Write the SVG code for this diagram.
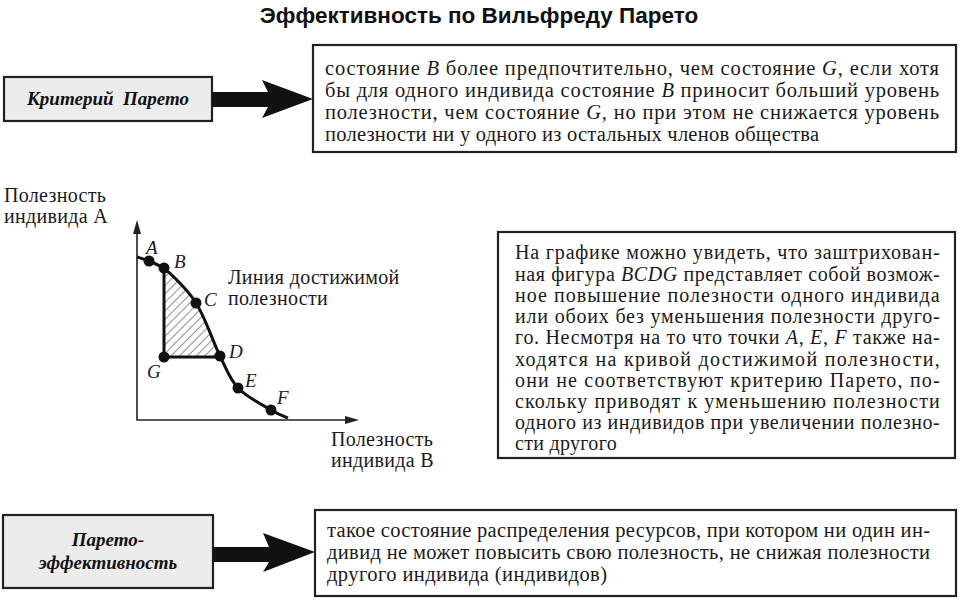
<svg xmlns="http://www.w3.org/2000/svg" width="960" height="600" viewBox="0 0 960 600">
<defs>
<style>
.title{font-family:"Liberation Sans",Arial,sans-serif;font-weight:bold;font-size:22.5px;fill:#111}
.lbl{font-family:"Liberation Serif","Times New Roman",serif;font-style:italic;font-weight:bold;font-size:19px;fill:#111}
.txt{font-family:"Liberation Serif","Times New Roman",serif;font-size:20.5px;fill:#1a1a1a}
.txt3{font-family:"Liberation Serif","Times New Roman",serif;font-size:20px;letter-spacing:0.3px;fill:#1a1a1a}
.ax{font-family:"Liberation Serif","Times New Roman",serif;font-size:20px;letter-spacing:0.3px;fill:#1a1a1a}
.pt{font-family:"Liberation Serif","Times New Roman",serif;font-style:italic;font-size:19px;fill:#1a1a1a}
.i{font-style:italic}
.gbox{fill:#ececec;stroke:#222;stroke-width:2.2}
.wbox{fill:#fff;stroke:#222;stroke-width:2.2}
.fat{fill:#111}
.axis{stroke:#222;stroke-width:1.6;fill:none}
.thick{stroke:#111;stroke-width:3;fill:none}
.dot{fill:#111}
</style>
<pattern id="hatch" width="6" height="6" patternUnits="userSpaceOnUse" patternTransform="rotate(45)">
<line x1="0" y1="0" x2="0" y2="6" stroke="#222" stroke-width="1"/>
</pattern>
</defs>
<rect width="960" height="600" fill="#fff"/>
<text class="title" x="479" y="23" text-anchor="middle">Эффективность по Вильфреду Парето</text>

<g id="criterion">
<rect class="gbox" x="4" y="77" width="208" height="44"/>
<text class="lbl" x="108" y="105" text-anchor="middle" xml:space="preserve">Критерий  Парето</text>
</g>

<g id="criterion-def">
<rect class="wbox" x="313" y="45" width="643" height="107"/>
<text class="txt" x="325" y="75" textLength="614" lengthAdjust="spacing">состояние <tspan class="i">B</tspan> более предпочтительно, чем состояние <tspan class="i">G</tspan>, если хотя</text>
<text class="txt" x="325" y="97" textLength="614" lengthAdjust="spacing">бы для одного индивида состояние <tspan class="i">B</tspan> приносит больший уровень</text>
<text class="txt" x="325" y="119" textLength="614" lengthAdjust="spacing">полезности, чем состояние <tspan class="i">G</tspan>, но при этом не снижается уровень</text>
<text class="txt" x="325" y="141" textLength="494" lengthAdjust="spacing">полезности ни у одного из остальных членов общества</text>
</g>

<g id="chart">
<text class="ax" x="4" y="202">Полезность</text>
<text class="ax" x="4" y="223">индивида А</text>
<text class="ax" x="331" y="446">Полезность</text>
<text class="ax" x="331" y="467">индивида В</text>
<path class="axis" d="M137,226 V420 H352"/>
<polygon points="137,220 133,234 141,234" fill="#222"/>
<polygon points="359,420 345,416 345,424" fill="#222"/>
<path d="M164,268 C171.8,275 186.7,288.3 196,303 C205.3,317.7 213,341.8 220,356 L164,357 Z" fill="url(#hatch)"/>
<path class="thick" d="M164,268 V357 H220"/>
<path class="thick" d="M137,257 C139,257.7 144.5,259.2 149,261 C153.5,262.8 156.2,264 164,268 C171.8,275 186.7,288.3 196,303 C205.3,317.7 213,341.8 220,356 C227,370.2 229.5,379 238,388 C246.5,397 262.7,405 271,410 C279.3,415 285.2,416.7 288,418"/>
<circle class="dot" cx="149" cy="261" r="5.5"/>
<circle class="dot" cx="164" cy="268" r="5.5"/>
<circle class="dot" cx="196" cy="303" r="5.5"/>
<circle class="dot" cx="220" cy="356" r="5.5"/>
<circle class="dot" cx="164" cy="357" r="5.5"/>
<circle class="dot" cx="238" cy="388" r="5.5"/>
<circle class="dot" cx="271" cy="410" r="5.5"/>
<text class="pt" x="146" y="254">A</text>
<text class="pt" x="174" y="268">B</text>
<text class="pt" x="204" y="306">C</text>
<text class="pt" x="229" y="358">D</text>
<text class="pt" x="147" y="378">G</text>
<text class="pt" x="245" y="387">E</text>
<text class="pt" x="277" y="404">F</text>
<text class="ax" x="228" y="284">Линия достижимой</text>
<text class="ax" x="228" y="305">полезности</text>
</g>

<g id="explanation">
<rect class="wbox" x="498" y="232" width="457" height="226"/>
<text class="txt3" x="515" y="259" textLength="425" lengthAdjust="spacing">На графике можно увидеть, что заштрихован-</text>
<text class="txt3" x="515" y="281" textLength="425" lengthAdjust="spacing">ная фигура <tspan class="i">BCDG</tspan> представляет собой возмож-</text>
<text class="txt3" x="515" y="302" textLength="425" lengthAdjust="spacing">ное повышение полезности одного индивида</text>
<text class="txt3" x="515" y="323" textLength="425" lengthAdjust="spacing">или обоих без уменьшения полезности друго-</text>
<text class="txt3" x="515" y="344" textLength="425" lengthAdjust="spacing">го. Несмотря на то что точки <tspan class="i">A</tspan>, <tspan class="i">E</tspan>, <tspan class="i">F</tspan> также на-</text>
<text class="txt3" x="515" y="366" textLength="425" lengthAdjust="spacing">ходятся на кривой достижимой полезности,</text>
<text class="txt3" x="515" y="387" textLength="425" lengthAdjust="spacing">они не соответствуют критерию Парето, по-</text>
<text class="txt3" x="515" y="408" textLength="425" lengthAdjust="spacing">скольку приводят к уменьшению полезности</text>
<text class="txt3" x="515" y="429" textLength="425" lengthAdjust="spacing">одного из индивидов при увеличении полезно-</text>
<text class="txt3" x="515" y="450">сти другого</text>
</g>

<g id="efficiency">
<rect class="gbox" x="3" y="515" width="210" height="73"/>
<text class="lbl" x="108" y="546" text-anchor="middle">Парето-</text>
<text class="lbl" x="108" y="569" text-anchor="middle">эффективность</text>
</g>

<g id="efficiency-def">
<rect class="wbox" x="315" y="510" width="641" height="86"/>
<text class="txt" x="327" y="537" textLength="603" lengthAdjust="spacing">такое состояние распределения ресурсов, при котором ни один ин-</text>
<text class="txt" x="327" y="559" textLength="603" lengthAdjust="spacing">дивид не может повысить свою полезность, не снижая полезности</text>
<text class="txt" x="327" y="581" textLength="280" lengthAdjust="spacing">другого индивида (индивидов)</text>
</g>

<g id="connectors">
<polygon class="fat" points="212,92 268,92 262,80 313,99 262,118 268,107 212,107"/>
<polygon class="fat" points="213,547 269,547 263,533 315,552 263,572 269,562 213,562"/>
</g>
</svg>
